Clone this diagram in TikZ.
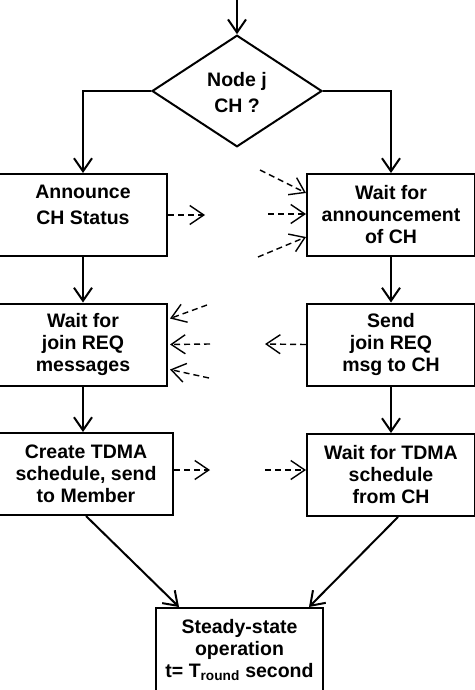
\documentclass[tikz,border=0pt]{standalone}
\usepackage{fontspec}
\setmainfont{Liberation Sans}
\usetikzlibrary{arrows.meta,shapes.geometric,positioning}

\begin{document}
\begin{tikzpicture}[x=1pt, y=-1pt, line width=2pt, font=\fontsize{19.5}{22}\selectfont\bfseries,
  flow/.style={-{Straight Barb[length=13pt,width=18pt]}},
  msg/.style={line width=1.4pt, dash pattern=on 6pt off 4pt, -{Straight Barb[length=14pt,width=19pt]}},
  box/.style={rectangle, draw, align=center, inner sep=0pt, minimum width=168pt, minimum height=82pt}]
  \useasboundingbox (0,0) rectangle (474,690);

  \node[diamond, draw, align=center, inner sep=0pt, minimum width=170pt, minimum height=110pt, text height=48pt, text depth=4pt] (chq) at (237,91) {Node j\\[4pt]CH ?};
  \node[box, text height=40pt, text depth=22pt] (announce) at (83,215) {Announce\\[4pt]CH Status};
  \node[box] (waitann) at (391,215) {Wait for\\announcement\\of CH};
  \node[box] (waitreq) at (83,344.5) {Wait for\\join REQ\\messages};
  \node[box] (sendreq) at (391,344.5) {Send\\join REQ\\msg to CH};
  \node[box, minimum width=174pt] (create) at (86,474) {Create TDMA\\schedule, send\\to Member};
  \node[box] (waitsched) at (391,475) {Wait for TDMA\\schedule\\from CH};
  \node[box, minimum width=167pt, minimum height=84pt] (steady) at (239.5,650) {Steady-state\\operation\\t= T\textsubscript{round} second};

  % main flow
  \coordinate (entry) at (237,0);
  \draw[flow] (entry) -- (chq.north);
  \draw[flow] (chq.west) -| (announce.north);
  \draw[flow] (chq.east) -| (waitann.north);
  \draw[flow] (announce) -- (waitreq);
  \draw[flow] (waitreq.south) -- (waitreq.south |- create.north);
  \draw[flow] (waitann) -- (sendreq);
  \draw[flow] (sendreq) -- (waitsched);
  \draw[flow] (create.south) -- ([xshift=24pt]steady.north west);
  \draw[flow] ([xshift=7pt]waitsched.south) -- ([xshift=-15pt]steady.north east);

  % messages between nodes
  \coordinate (annout) at (205,215);
  \coordinate (annin1) at (260,170);
  \coordinate (annin2) at (268,214);
  \coordinate (annin3) at (258,257);
  \draw[msg] (announce.east) -- (annout);
  \draw[msg] (annin1) -- ([yshift=22pt]waitann.west);
  \draw[msg] (annin2) -- ([yshift=1pt]waitann.west);
  \draw[msg] (annin3) -- ([yshift=-22pt]waitann.west);

  \coordinate (reqin1) at (207,305);
  \coordinate (reqin2) at (210,344);
  \coordinate (reqin3) at (209,378);
  \coordinate (reqout) at (265,344);
  \draw[msg] (reqin1) -- ([xshift=2pt,yshift=26pt]waitreq.east);
  \draw[msg] (reqin2) -- ([xshift=2pt]waitreq.east);
  \draw[msg] (reqin3) -- ([xshift=2pt,yshift=-25pt]waitreq.east);
  \draw[msg] (sendreq.west) -- (reqout);

  \coordinate (schedout) at (210,470);
  \coordinate (schedin) at (265,470);
  \draw[msg] ([yshift=4pt]create.east) -- (schedout);
  \draw[msg] (schedin) -- ([yshift=5pt]waitsched.west);
\end{tikzpicture}
\end{document}
